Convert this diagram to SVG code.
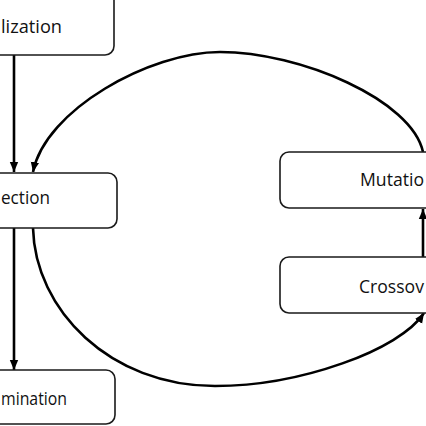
<svg xmlns="http://www.w3.org/2000/svg" width="426" height="426" viewBox="0 0 426 426">
<style>
.box{fill:#fff;stroke:#1a1a1a;stroke-width:1.6}
.lbl{font-family:"Open Sans","Liberation Sans",sans-serif;font-size:17.5px;fill:#111}
.con{fill:none;stroke:#000;stroke-width:2.6}
</style>
<defs>
<marker id="ah" markerUnits="userSpaceOnUse" markerWidth="10" markerHeight="10" viewBox="0 0 10 10" refX="10" refY="5" orient="auto">
<path d="M0,0.8 L10,5 L0,9.2 z" fill="#000"/>
</marker>
</defs>
<rect width="426" height="426" fill="#fff"/>
<g id="connectors">
<line class="con" x1="14" y1="55" x2="14" y2="172" marker-end="url(#ah)"/>
<line class="con" x1="14" y1="228" x2="14" y2="370" marker-end="url(#ah)"/>
<path class="con" d="M423,152 C412,100 300,52 220,52 C150,52 45,110 33,172" marker-end="url(#ah)"/>
<path class="con" d="M33,228 C35,310 110,386 215,386 C300,386 400,350 424,313" marker-end="url(#ah)"/>
<line class="con" x1="423" y1="257" x2="423" y2="209" marker-end="url(#ah)"/>
</g>
<g id="initialization">
<rect class="box" x="-60" y="-10" width="174" height="65" rx="9"/>
<text class="lbl" x="1" y="33" textLength="61" lengthAdjust="spacingAndGlyphs">lization</text>
</g>
<g id="selection">
<rect class="box" x="-60" y="173" width="177" height="55" rx="9"/>
<text class="lbl" x="1" y="204" textLength="49" lengthAdjust="spacingAndGlyphs">ection</text>
</g>
<g id="elimination">
<rect class="box" x="-60" y="370" width="175" height="54" rx="9"/>
<text class="lbl" x="1" y="405" textLength="66" lengthAdjust="spacingAndGlyphs">mination</text>
</g>
<g id="mutation">
<rect class="box" x="280" y="152" width="200" height="56" rx="9"/>
<text class="lbl" x="360" y="186" textLength="64" lengthAdjust="spacingAndGlyphs">Mutatio</text>
</g>
<g id="crossover">
<rect class="box" x="280" y="257" width="200" height="56" rx="9"/>
<text class="lbl" x="359" y="293" textLength="65" lengthAdjust="spacingAndGlyphs">Crossov</text>
</g>
</svg>
